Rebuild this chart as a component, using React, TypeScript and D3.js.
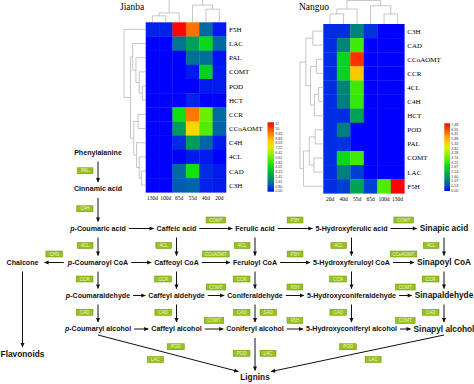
import * as d3 from 'd3';
import React, { useRef, useEffect } from 'react';

// ---- heatmap data ----
const jianbaDays = ['130d', '100d', '65d', '55d', '40d', '20d'];
const jianbaGenes = ['F5H', 'LAC', 'PAL', 'COMT', 'POD', 'HCT', 'CCR', 'CCoAOMT', 'C4H', '4CL', 'CAD', 'C3H'];
const jianbaValues = [
  [0.4, 0.4, 11.1, 9.6, 1.3, 0.3], // F5H
  [0, 0, 1.5, 2.6, 4.0, 1.3], // LAC
  [0, 0, 0, 1.4, 1.4, 0.2], // PAL
  [0, 0, 0, 0.3, 3.8, 0.3], // COMT
  [0, 0, 0, 0, 0.3, 0.3], // POD
  [0, 0, 0, 0.4, 0, 0], // HCT
  [0, 0, 4.2, 9.5, 5.5, 1.3], // CCR
  [0, 0, 2.5, 7.9, 5.2, 1.2], // CCoAOMT
  [0, 0, 0.5, 2.5, 1.2, 0.3], // C4H
  [0, 0, 0, 0.3, 0.3, 0], // 4CL
  [0, 0, 1.3, 4.3, 0.5, 0.3], // CAD
  [0, 0, 1.1, 1.2, 0.4, 0.3], // C3H
];
const jianbaLegend = ['11', '10', '9.63', '8.83', '8.03', '7.22', '6.42', '5.62', '4.82', '4.01', '3.21', '2.41', '1.61', '0.80', '0.00'];

const nanguoDays = ['20d', '40d', '55d', '65d', '100d', '130d'];
const nanguoGenes = ['C3H', 'CAD', 'CCoAOMT', 'CCR', '4CL', 'C4H', 'HCT', 'POD', 'PAL', 'COMT', 'LAC', 'F5H'];
const nanguoValues = [
  [0.35, 0.35, 1.2, 0.4, 0, 0], // C3H
  [0.35, 1.2, 3.3, 0, 0, 0], // CAD
  [0.35, 2.6, 7.0, 0, 0, 0], // CCoAOMT
  [0.35, 2.6, 5.5, 0, 0, 0], // CCR
  [0.35, 1.2, 3.3, 0, 0, 0], // 4CL
  [0.35, 1.1, 3.2, 0, 0, 0], // C4H
  [0.35, 0.35, 1.8, 0, 0, 0], // HCT
  [0.35, 1.1, 0, 0, 0, 0], // POD
  [0.35, 0.4, 0, 0, 0, 0], // PAL
  [0.35, 2.7, 3.3, 0, 0, 0], // COMT
  [0.35, 1.1, 0.5, 0, 0, 0], // LAC
  [0.35, 0.5, 1.8, 0.5, 3.4, 7.48], // F5H
];
const nanguoLegend = ['7.48', '6.95', '6.41', '5.88', '5.34', '4.81', '4.28', '3.74', '3.21', '2.67', '2.14', '1.60', '1.07', '0.53', '0.00'];

// dendrograms: [merge height, left, right]
type Tree = string | [number, Tree, Tree];
const jianbaColTree: Tree = [1.05, [0.42, [0.29, '130d', '100d'], '65d'], [0.77, '55d', [0.59, '40d', '20d']]];
const jianbaRowTree: Tree = [1.0, 'F5H', [0.7, [0.6, 'LAC', [0.45, 'PAL', [0.3, 'COMT', [0.15, 'POD', 'HCT']]]],
  [0.55, [0.35, 'CCR', 'CCoAOMT'], [0.42, 'C4H', [0.3, '4CL', [0.2, 'CAD', 'C3H']]]]]];
const nanguoColTree: Tree = [0.98, [0.625, [0.42, '20d', '40d'], '55d'], [0.76, '65d', [0.42, '100d', '130d']]];
const nanguoRowTree: Tree = [1.0, [0.75, [0.45, 'C3H', 'CAD'], [0.55, [0.3, 'CCoAOMT', 'CCR'], [0.38, [0.2, '4CL', 'C4H'], 'HCT']]],
  [0.85, [0.6, [0.35, 'POD', 'PAL'], [0.4, 'COMT', 'LAC']], 'F5H']];

// ---- pathway data ----
const compounds = [
  ['Phenylalanine', 'cou', 'phe'],
  ['Cinnamic acid', 'cou', 'cin'],
  ['p-Coumaric acid', 'cou', 'acid'],
  ['Caffeic acid', 'caf', 'acid'],
  ['Ferulic acid', 'fer', 'acid'],
  ['5-Hydroxyferulic acid', 'hyd', 'acid'],
  ['Sinapic acid', 'sin', 'acid'],
  ['Chalcone', 'fla', 'coa'],
  ['p-Coumaroyl CoA', 'cou', 'coa'],
  ['Caffeoyl CoA', 'caf', 'coa'],
  ['Feruloyl CoA', 'fer', 'coa'],
  ['5-Hydroxyferuloyl CoA', 'hyd', 'coa'],
  ['Sinapoyl CoA', 'sin', 'coa'],
  ['p-Coumaraldehyde', 'cou', 'ald'],
  ['Caffeyl aldehyde', 'caf', 'ald'],
  ['Coniferaldehyde', 'fer', 'ald'],
  ['5-Hydroxyconiferaldehyde', 'hyd', 'ald'],
  ['Sinapaldehyde', 'sin', 'ald'],
  ['p-Coumaryl alcohol', 'cou', 'alc'],
  ['Caffeyl alcohol', 'caf', 'alc'],
  ['Coniferyl alcohol', 'fer', 'alc'],
  ['5-Hydroxyconiferyl alcohol', 'hyd', 'alc'],
  ['Sinapyl alcohol', 'sin', 'alc'],
  ['Flavonoids', 'fla', 'flav'],
  ['Lignins', 'fer', 'lig'],
];
const largeNames = ['Sinapic acid', 'Sinapoyl CoA', 'Sinapaldehyde', 'Sinapyl alcohol', 'Flavonoids', 'Lignins'];

const steps: [string, string, string[]][] = [
  ['Phenylalanine', 'Cinnamic acid', ['PAL']],
  ['Cinnamic acid', 'p-Coumaric acid', ['C4H']],
  ['p-Coumaric acid', 'Caffeic acid', []],
  ['Caffeic acid', 'Ferulic acid', ['COMT']],
  ['Ferulic acid', '5-Hydroxyferulic acid', ['F5H']],
  ['5-Hydroxyferulic acid', 'Sinapic acid', ['COMT']],
  ['p-Coumaric acid', 'p-Coumaroyl CoA', ['4CL']],
  ['Caffeic acid', 'Caffeoyl CoA', ['4CL']],
  ['Ferulic acid', 'Feruloyl CoA', ['4CL']],
  ['5-Hydroxyferulic acid', '5-Hydroxyferuloyl CoA', ['4CL']],
  ['Sinapic acid', 'Sinapoyl CoA', ['4CL']],
  ['p-Coumaroyl CoA', 'Chalcone', ['CHS']],
  ['Chalcone', 'Flavonoids', []],
  ['p-Coumaroyl CoA', 'Caffeoyl CoA', []],
  ['Caffeoyl CoA', 'Feruloyl CoA', ['CCoAOMT']],
  ['Feruloyl CoA', '5-Hydroxyferuloyl CoA', ['F5H']],
  ['5-Hydroxyferuloyl CoA', 'Sinapoyl CoA', ['CCoAOMT']],
  ['p-Coumaroyl CoA', 'p-Coumaraldehyde', ['CCR']],
  ['Caffeoyl CoA', 'Caffeyl aldehyde', ['CCR']],
  ['Feruloyl CoA', 'Coniferaldehyde', ['CCR']],
  ['5-Hydroxyferuloyl CoA', '5-Hydroxyconiferaldehyde', ['CCR']],
  ['Sinapoyl CoA', 'Sinapaldehyde', ['CCR']],
  ['p-Coumaraldehyde', 'Caffeyl aldehyde', []],
  ['Caffeyl aldehyde', 'Coniferaldehyde', ['COMT']],
  ['Coniferaldehyde', '5-Hydroxyconiferaldehyde', ['F5H']],
  ['5-Hydroxyconiferaldehyde', 'Sinapaldehyde', ['COMT']],
  ['p-Coumaraldehyde', 'p-Coumaryl alcohol', ['CAD']],
  ['Caffeyl aldehyde', 'Caffeyl alcohol', ['CAD']],
  ['Coniferaldehyde', 'Coniferyl alcohol', ['CAD', 'SAD']],
  ['5-Hydroxyconiferaldehyde', '5-Hydroxyconiferyl alcohol', ['CAD']],
  ['Sinapaldehyde', 'Sinapyl alcohol', ['CAD']],
  ['p-Coumaryl alcohol', 'Caffeyl alcohol', []],
  ['Caffeyl alcohol', 'Coniferyl alcohol', ['COMT']],
  ['Coniferyl alcohol', '5-Hydroxyconiferyl alcohol', ['F5H']],
  ['5-Hydroxyconiferyl alcohol', 'Sinapyl alcohol', ['COMT']],
  ['p-Coumaryl alcohol', 'Lignins', ['POD', 'LAC']],
  ['Coniferyl alcohol', 'Lignins', ['POD', 'LAC']],
  ['Sinapyl alcohol', 'Lignins', ['POD', 'LAC']],
];

const stopT = [0, 0.05, 0.1, 0.15, 0.22, 0.3, 0.38, 0.48, 0.56, 0.64, 0.72, 0.8, 0.88, 1];
const stopC = ['#0000ff', '#0030e0', '#005fb0', '#008080', '#009a60', '#00c030', '#10e010', '#60f000',
  '#a0f000', '#e0f000', '#ffd000', '#ffa000', '#ff6000', '#ff0000'];

const SERIF = '"Liberation Serif", "Times New Roman", serif';
const SANS = '"Liberation Sans", Arial, sans-serif';

function drawTree(g: any, tree: Tree, leafPos: (s: string) => number, hPos: (h: number) => number, orient: 'top' | 'left') {
  const walk = (t: Tree): { p: number; h: number } => {
    if (typeof t === 'string') return { p: leafPos(t), h: 0 };
    const [h, a, b] = t;
    const A = walk(a);
    const B = walk(b);
    const d = orient === 'top'
      ? `M${A.p},${hPos(A.h)}V${hPos(h)}H${B.p}V${hPos(B.h)}`
      : `M${hPos(A.h)},${A.p}H${hPos(h)}V${B.p}H${hPos(B.h)}`;
    g.append('path').attr('d', d).attr('fill', 'none').attr('stroke', '#b8b8b8').attr('stroke-width', 0.8);
    return { p: (A.p + B.p) / 2, h };
  };
  walk(tree);
}

function drawHeatmap(svg: any, o: any) {
  const g = svg.append('g');
  const xs = d3.scaleBand().domain(o.days).range([o.x0, o.x1]);
  const ys = d3.scaleBand().domain(o.genes).range([o.y0, o.y1]);
  const color = d3.scaleLinear<string>().domain(stopT.map(t => t * o.max)).range(stopC).clamp(true);

  o.genes.forEach((gene: string, i: number) => {
    o.days.forEach((day: string, j: number) => {
      g.append('rect')
        .attr('x', xs(day)).attr('y', ys(gene))
        .attr('width', xs.bandwidth() + 0.3).attr('height', ys.bandwidth() + 0.3)
        .attr('fill', color(o.values[i][j]));
    });
  });

  g.selectAll('.rl').data(o.genes).enter().append('text')
    .attr('x', o.x1 + 3).attr('y', (d: string) => (ys(d) as number) + ys.bandwidth() / 2)
    .attr('dy', '0.35em').attr('font-size', 7).attr('font-family', SERIF).text((d: string) => d);
  g.selectAll('.cl').data(o.days).enter().append('text')
    .attr('x', (d: string) => (xs(d) as number) + xs.bandwidth() / 2).attr('y', o.y1 + 8)
    .attr('text-anchor', 'middle').attr('font-size', 5.5).attr('font-family', SERIF).text((d: string) => d);

  g.append('text').attr('x', o.titleX).attr('y', 10).attr('font-size', 9.5).attr('font-family', SERIF).text(o.title);

  drawTree(g, o.colTree, (s) => (xs(s) as number) + xs.bandwidth() / 2,
    d3.scaleLinear().domain([0, 1]).range([o.y0, 0]), 'top');
  drawTree(g, o.rowTree, (s) => (ys(s) as number) + ys.bandwidth() / 2,
    d3.scaleLinear().domain([0, 1]).range([o.x0, o.dendroLeft]), 'left');

  // legend
  const gid = 'grad' + o.title;
  const grad = svg.select('defs').append('linearGradient').attr('id', gid)
    .attr('x1', 0).attr('y1', 1).attr('x2', 0).attr('y2', 0);
  stopT.forEach((t, i) => grad.append('stop').attr('offset', t).attr('stop-color', stopC[i]));
  g.append('rect').attr('x', o.lx).attr('y', o.ly0).attr('width', o.lw).attr('height', o.ly1 - o.ly0)
    .attr('fill', `url(#${gid})`);
  const ls = d3.scalePoint().domain(o.legend).range([o.ly0 + 1.5, o.ly1 - 0.5]);
  g.selectAll('.lg').data(o.legend).enter().append('text')
    .attr('x', o.lx + o.lw + 1.2).attr('y', (d: string) => ls(d) as number).attr('dy', '0.35em')
    .attr('font-size', 3.6).attr('font-family', SANS).attr('fill', '#333').text((d: string) => d);
}

export default function App() {
  const ref = useRef<SVGSVGElement>(null);

  useEffect(() => {
    const svg = d3.select(ref.current);
    svg.selectAll('*').remove();
    const defs = svg.append('defs');
    defs.append('marker').attr('id', 'arr').attr('viewBox', '0 0 10 10').attr('refX', 9).attr('refY', 5)
      .attr('markerWidth', 5).attr('markerHeight', 4.5).attr('markerUnits', 'userSpaceOnUse').attr('orient', 'auto')
      .append('path').attr('d', 'M0,0.5L10,5L0,9.5Z').attr('fill', '#111');

    drawHeatmap(svg, {
      title: 'Jianba', titleX: 120, days: jianbaDays, genes: jianbaGenes, values: jianbaValues, legend: jianbaLegend,
      max: 11.2, x0: 145.7, x1: 226, y0: 22.3, y1: 192.3, colTree: jianbaColTree, rowTree: jianbaRowTree,
      dendroLeft: 124, lx: 267.5, lw: 6.5, ly0: 122.3, ly1: 191.7,
    });
    drawHeatmap(svg, {
      title: 'Nanguo', titleX: 299, days: nanguoDays, genes: nanguoGenes, values: nanguoValues, legend: nanguoLegend,
      max: 7.48, x0: 323.3, x1: 404.3, y0: 24, y1: 193.3, colTree: nanguoColTree, rowTree: nanguoRowTree,
      dendroLeft: 300, lx: 444.3, lw: 5.7, ly0: 123.3, ly1: 191,
    });

    // ---- pathway ----
    const colX = d3.scaleOrdinal<string, number>().domain(['fla', 'cou', 'caf', 'fer', 'hyd', 'sin'])
      .range([22.5, 98, 176.5, 255, 351.5, 444]);
    const rowY = d3.scaleOrdinal<string, number>().domain(['phe', 'cin', 'acid', 'coa', 'ald', 'alc', 'flav', 'lig'])
      .range([152.5, 189, 228.5, 262.5, 295.5, 329, 354, 377.5]);

    const pg = svg.append('g');
    const info: Record<string, { x: number; y: number; box: DOMRect }> = {};
    compounds.forEach(([name, c, r]) => {
      const x = colX(c), y = rowY(r);
      const t = pg.append('text').attr('x', x).attr('y', y).attr('dy', '0.35em').attr('text-anchor', 'middle')
        .attr('font-family', SANS).attr('font-weight', 'bold')
        .attr('font-size', largeNames.includes(name) ? 8.3 : 7.1).attr('fill', '#111');
      if (name.startsWith('p-')) {
        t.append('tspan').attr('font-style', 'italic').text('p');
        t.append('tspan').text(name.slice(1));
      } else t.text(name);
      info[name] = { x, y, box: (t.node() as SVGTextElement).getBBox() };
    });

    const enzyme = (label: string, cx: number, cy: number, anchor: 'mid' | 'right' | 'left') => {
      const t = pg.append('text').attr('font-size', 4.5).attr('font-family', SANS).attr('fill', '#eef6d2')
        .attr('text-anchor', 'middle').attr('dy', '0.35em').text(label);
      const w = 9 + 0.8 * (t.node() as SVGTextElement).getComputedTextLength();
      const h = 6;
      const x = anchor === 'mid' ? cx - w / 2 : anchor === 'right' ? cx - w : cx;
      pg.insert('rect', () => t.node()).attr('x', x).attr('y', cy - h / 2).attr('width', w).attr('height', h)
        .attr('fill', '#98c21c').attr('stroke', '#6a8c08').attr('stroke-width', 0.5);
      t.attr('x', x + w / 2).attr('y', cy);
    };
    const arrow = (x1: number, y1: number, x2: number, y2: number) =>
      pg.append('line').attr('x1', x1).attr('y1', y1).attr('x2', x2).attr('y2', y2)
        .attr('stroke', '#111').attr('stroke-width', 1).attr('marker-end', 'url(#arr)');

    steps.forEach(([from, to, enz]) => {
      const A = info[from], B = info[to];
      if (A.y === B.y) {
        const left = B.x > A.x;
        const x1 = left ? A.box.x + A.box.width + 3 : A.box.x - 3;
        const x2 = left ? B.box.x - 3 : B.box.x + B.box.width + 6;
        arrow(x1, A.y, x2, A.y);
        enz.forEach(e => enzyme(e, (x1 + x2) / 2, A.y - 8.5, 'mid'));
      } else if (A.x === B.x) {
        const y1 = A.y + 9, y2 = B.y - 7;
        arrow(A.x, y1, A.x, y2);
        const my = (y1 + y2) / 2 - 1;
        if (enz[0]) enzyme(enz[0], A.x - 5, my, 'right');
        if (enz[1]) enzyme(enz[1], A.x + 5, my, 'left');
      } else {
        const x1 = A.x, y1 = A.y + 6;
        const x2 = A.x < B.x ? B.box.x - 2 : B.box.x + B.box.width + 1;
        const y2 = B.y - 6;
        arrow(x1, y1, x2, y2);
        const at = (t: number) => [x1 + (x2 - x1) * t, y1 + (y2 - y1) * t];
        const [px, py] = at(0.555);
        const [lx, ly] = at(0.41);
        enzyme(enz[0], px, py - 8.5, 'mid');
        enzyme(enz[1], lx, ly + 9.5, 'mid');
      }
    });
  }, []);

  return (
    <svg ref={ref} width={474} height={384}
      style={{ position: 'absolute', left: 0, top: 0, background: '#fff' }} />
  );
}
